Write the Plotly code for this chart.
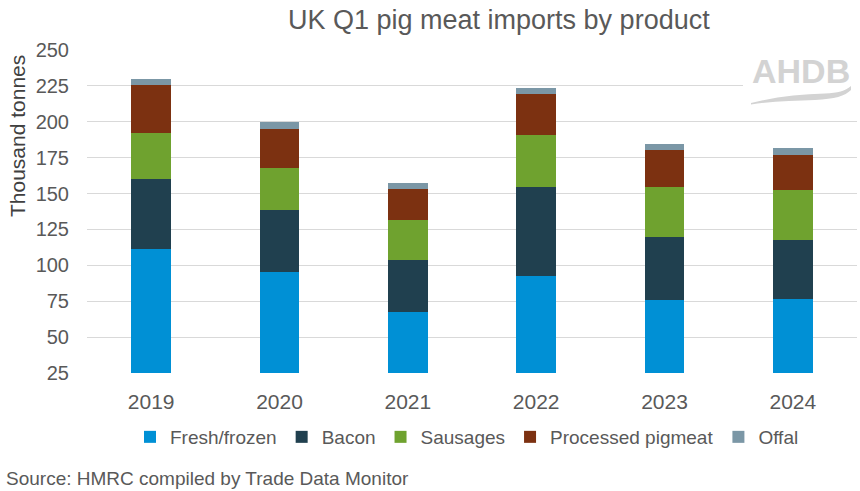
import plotly.graph_objects as go

years = ["2019", "2020", "2021", "2022", "2023", "2024"]
fresh_frozen = [111.4, 95.3, 67.5, 92.3, 75.8, 76.5]
bacon = [48.9, 43.2, 36.4, 62.2, 44.1, 40.9]
sausages = [31.6, 29.5, 27.6, 36.0, 34.6, 35.2]
processed = [33.7, 27.0, 21.8, 29.0, 25.8, 24.4]
offal = [3.9, 4.6, 3.8, 4.2, 4.4, 4.5]

series = [
    ("Fresh/frozen", fresh_frozen, "#0090D5"),
    ("Bacon", bacon, "#20404F"),
    ("Sausages", sausages, "#6FA22F"),
    ("Processed pigmeat", processed, "#7C3111"),
    ("Offal", offal, "#7B97A6"),
]

# layout geometry (pixels)
W, H = 860, 491
L, R, T, B = 87, 3, 50, 118
PW, PH = W - L - R, H - T - B


def px(x):
    return (x - L) / PW


def py(y):
    return (H - B - y) / PH


fig = go.Figure()
for name, vals, col in series:
    fig.add_trace(go.Bar(x=years, y=vals, name=name, marker=dict(color=col, line=dict(width=0))))

font_family = "Liberation Sans, Arial, sans-serif"
grey = "#595959"

swoosh = (
    f"M {px(751)} {py(103)} "
    f"C {px(775)} {py(97)}, {px(800)} {py(94)}, {px(825)} {py(93.5)} "
    f"C {px(838)} {py(93)}, {px(845)} {py(91)}, {px(851)} {py(86)} "
    f"L {px(851)} {py(90)} "
    f"C {px(845)} {py(96)}, {px(835)} {py(99)}, {px(815)} {py(100)} "
    f"C {px(795)} {py(101)}, {px(772)} {py(101)}, {px(751)} {py(104.5)} Z"
)

fig.update_layout(
    barmode="stack",
    bargap=0.69,
    width=W, height=H,
    margin=dict(l=L, r=R, t=T, b=B),
    paper_bgcolor="white", plot_bgcolor="white",
    font=dict(family=font_family, size=20, color=grey),
    showlegend=True,
    legend=dict(orientation="h", x=px(467), xanchor="center", y=py(437), yanchor="middle",
                font=dict(size=19, color=grey), traceorder="normal",
                itemwidth=30, tracegroupgap=0),
    xaxis=dict(showgrid=False, showline=False, ticks="", ticklabelstandoff=14,
               tickfont=dict(size=21, color=grey)),
    yaxis=dict(range=[25, 250], tick0=25, dtick=25, showgrid=True, gridcolor="#D9D9D9", gridwidth=1,
               zeroline=False, showline=False, ticks="", ticklabelstandoff=17,
               tickfont=dict(size=20, color=grey)),
    annotations=[
        dict(text="UK Q1 pig meat imports by product", xref="paper", yref="paper",
             x=px(499), y=py(20), xanchor="center", yanchor="middle", showarrow=False,
             font=dict(size=27, color=grey)),
        dict(text="Thousand tonnes", xref="paper", yref="paper", textangle=-90,
             x=px(17), y=py(136), xanchor="center", yanchor="middle", showarrow=False,
             font=dict(size=21, color="#404040")),
        dict(text="Source: HMRC compiled by Trade Data Monitor", xref="paper", yref="paper",
             x=px(4), y=py(478), xanchor="left", yanchor="middle", showarrow=False,
             font=dict(size=19, color=grey)),
        dict(text="<b>AHDB</b>", xref="paper", yref="paper", x=px(800.5), y=py(71),
             xanchor="center", yanchor="middle", showarrow=False,
             font=dict(size=34, color="#D3D3D3")),
    ],
    shapes=[
        dict(type="rect", xref="paper", yref="paper", x0=px(743), x1=1.0, y0=py(107), y1=py(56),
             fillcolor="white", line=dict(width=0), layer="above"),
        dict(type="path", xref="paper", yref="paper", path=swoosh,
             fillcolor="#D3D3D3", line=dict(width=0), layer="above"),
    ],
)

fig.write_html("out.html")
